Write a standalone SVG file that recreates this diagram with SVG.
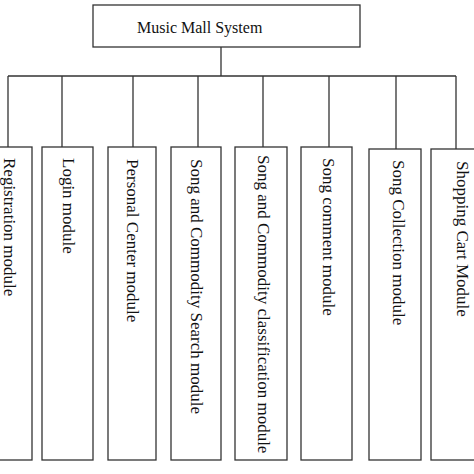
<svg xmlns="http://www.w3.org/2000/svg" width="474" height="474" viewBox="0 0 474 474">
<style>
.box{fill:#fff;stroke:#333;stroke-width:1.3}
.ln{fill:none;stroke:#333;stroke-width:1.3}
text{font-family:"Liberation Serif","Times New Roman",serif;fill:#111}
.v{font-size:17px}
.t{font-size:16px}
</style>
<rect width="474" height="474" fill="#fff"/>
<g id="connectors" class="ln">
<path d="M221 47V76M8 76H456M8 76V147M62 76V147M133 76V147M198 76V147M263 76V147M329 76V147M396 76V149M456 76V149"/>
</g>
<g id="root"><rect class="box" x="93" y="5" width="267" height="42"/><text class="t" x="137" y="33">Music Mall System</text></g>
<g id="n1"><rect class="box" x="-16" y="147" width="48" height="313"/><text class="v" transform="translate(8,158) rotate(90)" y="4">Registration module</text></g>
<g id="n2"><rect class="box" x="42" y="147" width="51" height="313"/><text class="v" transform="translate(67,158) rotate(90)" y="4">Login module</text></g>
<g id="n3"><rect class="box" x="108" y="147" width="48" height="313"/><text class="v" transform="translate(131,159) rotate(90)" y="4">Personal Center module</text></g>
<g id="n4"><rect class="box" x="171" y="147" width="50" height="313"/><text class="v" transform="translate(195,159) rotate(90)" y="4">Song and Commodity Search module</text></g>
<g id="n5"><rect class="box" x="235" y="147" width="52" height="313"/><text class="v" transform="translate(262,155) rotate(90)" y="4">Song and Commodity classification module</text></g>
<g id="n6"><rect class="box" x="301" y="147" width="51" height="313"/><text class="v" transform="translate(327,158) rotate(90)" y="4">Song comment module</text></g>
<g id="n7"><rect class="box" x="369" y="149" width="52" height="311"/><text class="v" transform="translate(397,160) rotate(90)" y="4">Song Collection module</text></g>
<g id="n8"><rect class="box" x="431" y="149" width="60" height="311"/><text class="v" transform="translate(461,161) rotate(90)" y="4">Shopping Cart Module</text></g>
</svg>
